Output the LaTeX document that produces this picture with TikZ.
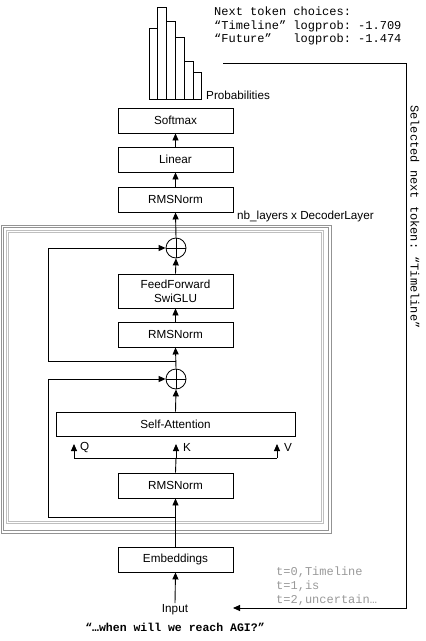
\documentclass[tikz,border=0pt]{standalone}
\usepackage{fontspec}
\setmainfont{Liberation Sans}
\setsansfont{Liberation Sans}
\setmonofont{Liberation Mono}
\usetikzlibrary{arrows.meta}
\begin{document}
\begin{tikzpicture}[x=1pt,y=-1pt,
  box/.style={draw,line width=0.9pt,minimum width=115,minimum height=25,inner sep=1pt,
    font=\fontsize{11.7}{13}\selectfont,align=center},
  arr/.style={line width=0.9pt,-{Triangle[length=7pt,width=6pt]}},
  ln/.style={line width=0.9pt},
  plus/.style={draw,circle,line width=0.8pt,minimum size=20,inner sep=0pt,
    path picture={\draw[line width=0.8pt] (path picture bounding box.north) -- (path picture bounding box.south)
      (path picture bounding box.west) -- (path picture bounding box.east);}},
  lbl/.style={font=\fontsize{11.7}{13}\selectfont,inner sep=0pt},
  mono/.style={font=\fontsize{12}{14}\ttfamily,inner sep=0pt,align=left},
  bar/.style={draw,line width=0.8pt},
  frameA/.style={draw=gray!85,line width=0.7pt},
  frameB/.style={draw=gray!50,line width=0.7pt}
]
\useasboundingbox (0,0) rectangle (426,641);

% decoder frame (stacked layers)
\path[frameA] (1,225) rectangle (331,533);
\path[frameA] (3.5,227.5) rectangle (328,530.5);
\path[frameB] (6,230) rectangle (323.5,523.5);
\path[frameB] (8.5,232.5) rectangle (321,521);

% histogram
\foreach \t [count=\i from 0] in {28,7,21,37,61,72} {
  \draw[bar] ({149+\i*8.8},\t) rectangle ({149+(\i+1)*8.8},99);
}
\node[lbl,anchor=base west] (prob) at (206,99) {Probabilities};

% top stack
\node[box] (softmax) at (175.5,120.5) {Softmax};
\node[box] (linear) at (175.5,159.5) {Linear};
\node[box] (rmsT) at (175.5,199.5) {RMSNorm};
\node[lbl,anchor=base west] (nbl) at (237,219) {nb\_layers x DecoderLayer};

% decoder layer
\node[plus] (plus2) at (176,248) {};
\node[box,minimum height=34] (ff) at (175.5,291) {FeedForward\\[1pt]SwiGLU};
\node[box] (rmsM) at (175.5,334.5) {RMSNorm};
\node[plus] (plus1) at (176,379) {};
\node[box,minimum width=239,minimum height=24] (attn) at (175.5,424) {Self-Attention};
\node[box] (rmsB) at (175.5,485.5) {RMSNorm};
\node[box] (emb) at (175.5,559.5) {Embeddings};
\node[lbl,inner sep=1.5pt] (input) at (175,610) {Input};
\node[font=\fontsize{11.5}{13}\ttfamily\bfseries,inner sep=0pt] (prompt) at (175,627) {“…when will we reach AGI?”};

% QKV
\coordinate (jk) at (176,458);
\coordinate (qB) at (74,458);
\coordinate (vB) at (277,458);
\coordinate (qT) at (74,444);
\coordinate (kT) at (176,444);
\coordinate (vT) at (277,444);
\node[lbl,anchor=west] (qlab) at (80,447.5) {Q};
\node[lbl,anchor=west] (klab) at (183,447.5) {K};
\node[lbl,anchor=west] (vlab) at (284,447.5) {V};
\draw[ln] (rmsB.north) -- (jk);
\draw[ln] (qB) -- (vB);
\draw[arr] (qB) -- (qT);
\draw[arr] (jk) -- (kT);
\draw[arr] (vB) -- (vT);

% main arrows
\draw[arr] (input.north) -- (emb.south);
\draw[arr] (emb.north) -- (rmsB.south);
\draw[arr] (attn.north) -- (plus1.south);
\draw[arr] (plus1.north) -- (rmsM.south);
\draw[arr] (rmsM.north) -- (ff.south);
\draw[arr] (ff.north) -- (plus2.south);
\draw[arr] (plus2.north) -- (rmsT.south);
\draw[arr] (rmsT.north) -- (linear.south);
\draw[arr] (linear.north) -- (softmax.south);

% residuals
\coordinate (r1) at (176,517);
\coordinate (r2) at (176,361);
\draw[arr] (r1) -- (48,517) |- (plus1.west);
\draw[arr] (r2) -- (48,361) |- (plus2.west);

% texts
\node[mono,anchor=north west] (choices) at (214,7) {Next token choices:\\[-0.5pt]“Timeline” logprob: -1.709\\[-0.5pt]“Future”\ \ \ logprob: -1.474};
\node[mono,anchor=north west,text=gray!80] (hist) at (276,567) {t=0,Timeline\\t=1,is\\t=2,uncertain…};
\node[mono,rotate=-90] (sel) at (415,217) {Selected next token: “Timeline”};

% feedback
\coordinate (fbS) at (223,63);
\coordinate (fbE) at (233,608);
\draw[arr] (fbS) -- (406,63) |- (fbE);
\end{tikzpicture}
\end{document}
